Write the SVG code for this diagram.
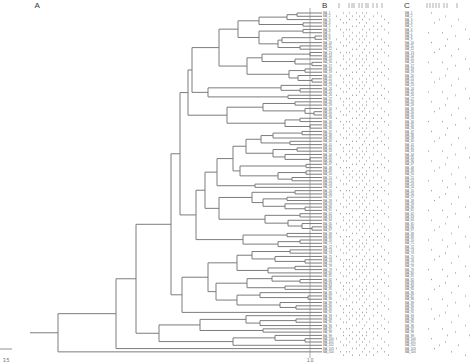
<svg xmlns="http://www.w3.org/2000/svg" width="474" height="364" viewBox="0 0 474 364">
<style>
.br{fill:none;stroke:#7c7c7c;stroke-width:1;vector-effect:non-scaling-stroke}
.hd{font-family:"Liberation Sans",Arial,sans-serif;font-size:8px;fill:#333}
.lb{font-family:"Liberation Sans",Arial,sans-serif;font-size:3px;fill:#666}
.ax{font-family:"Liberation Sans",Arial,sans-serif;font-size:4.5px;fill:#666}
.tk{stroke:#999;stroke-width:0.8}
</style>
<defs>
<pattern id="pb" patternUnits="userSpaceOnUse" x="335" y="11.5" width="57" height="23.03">
<g fill="#9a9a9a">
<rect x="8" y="0.9" width="1" height="1.2"/><rect x="14" y="0.9" width="1" height="1.2"/><rect x="21" y="0.9" width="1" height="1.2"/><rect x="27" y="0.9" width="1" height="1.2"/><rect x="31" y="0.9" width="1" height="1.2"/><rect x="42" y="0.9" width="1" height="1.2"/>
<rect x="1" y="4.19" width="1" height="1.2"/><rect x="11" y="4.19" width="1" height="1.2"/><rect x="17" y="4.19" width="1" height="1.2"/><rect x="24" y="4.19" width="1" height="1.2"/><rect x="29" y="4.19" width="1" height="1.2"/><rect x="38" y="4.19" width="1" height="1.2"/><rect x="46" y="4.19" width="1" height="1.2"/>
<rect x="5" y="7.48" width="1" height="1.2"/><rect x="14" y="7.48" width="1" height="1.2"/><rect x="21" y="7.48" width="1" height="1.2"/><rect x="27" y="7.48" width="1" height="1.2"/><rect x="34" y="7.48" width="1" height="1.2"/><rect x="49" y="7.48" width="1" height="1.2"/>
<rect x="8" y="10.77" width="1" height="1.2"/><rect x="11" y="10.77" width="1" height="1.2"/><rect x="24" y="10.77" width="1" height="1.2"/><rect x="31" y="10.77" width="1" height="1.2"/><rect x="42" y="10.77" width="1" height="1.2"/><rect x="53" y="10.77" width="1" height="1.2"/>
<rect x="1" y="14.06" width="1" height="1.2"/><rect x="17" y="14.06" width="1" height="1.2"/><rect x="21" y="14.06" width="1" height="1.2"/><rect x="29" y="14.06" width="1" height="1.2"/><rect x="38" y="14.06" width="1" height="1.2"/><rect x="46" y="14.06" width="1" height="1.2"/>
<rect x="5" y="17.35" width="1" height="1.2"/><rect x="11" y="17.35" width="1" height="1.2"/><rect x="14" y="17.35" width="1" height="1.2"/><rect x="27" y="17.35" width="1" height="1.2"/><rect x="34" y="17.35" width="1" height="1.2"/><rect x="42" y="17.35" width="1" height="1.2"/><rect x="49" y="17.35" width="1" height="1.2"/>
<rect x="8" y="20.64" width="1" height="1.2"/><rect x="17" y="20.64" width="1" height="1.2"/><rect x="24" y="20.64" width="1" height="1.2"/><rect x="31" y="20.64" width="1" height="1.2"/><rect x="38" y="20.64" width="1" height="1.2"/><rect x="53" y="20.64" width="1" height="1.2"/>
</g>
</pattern>
<pattern id="pc" patternUnits="userSpaceOnUse" x="425" y="11.5" width="49" height="29.61">
<g fill="#9a9a9a">
<rect x="6" y="0.9" width="1" height="1.2"/><rect x="20" y="4.19" width="1" height="1.2"/><rect x="14" y="7.48" width="1" height="1.2"/><rect x="33" y="7.48" width="1" height="1.2"/><rect x="9" y="10.77" width="1" height="1.2"/><rect x="26" y="14.06" width="1" height="1.2"/><rect x="40" y="17.35" width="1" height="1.2"/><rect x="3" y="20.64" width="1" height="1.2"/><rect x="17" y="20.64" width="1" height="1.2"/><rect x="30" y="23.93" width="1" height="1.2"/><rect x="22" y="27.22" width="1" height="1.2"/><rect x="44" y="27.22" width="1" height="1.2"/>
</g>
</pattern>
</defs>
<rect width="474" height="364" fill="#fff"/>

<g id="panel-letters">
<text class="hd" x="34.5" y="7.5">A</text>
<text class="hd" x="322" y="7.5">B</text>
<text class="hd" x="404" y="7.5">C</text>
</g>

<g id="column-headers">
<path class="tk" d="M339 3V8M349 3V8M352 3V8M354 3V8M359 3V8M362 3V8M366 3V8M368 3V8M373 3V8M377 3V8M382 3V8"/>
<path class="tk" d="M427 3V8M430 3V8M433 3V8M436 3V8M439 3V8M444 3V8M447 3V8M457 3V8"/>
</g>

<g id="cut-line"><path d="M310 8V358" stroke="#9a9a9a" stroke-width="0.8"/></g>

<g id="connectors" transform="translate(0,13) scale(1,3.29)">
<path class="br" d="M322 0H297V1H322"/>
<path class="br" d="M297 0.5H287V2H322"/>
<path class="br" d="M322 3H303V4H322"/>
<path class="br" d="M287 1.25H259V3.5H303"/>
<path class="br" d="M322 5H303V6H322"/>
<path class="br" d="M322 7H315V8H322"/>
<path class="br" d="M315 7.5H282V9H322"/>
<path class="br" d="M322 10H300V11H322"/>
<path class="br" d="M282 8.25H278V10.5H300"/>
<path class="br" d="M303 5.5H259V9.375H278"/>
<path class="br" d="M259 2.375H238V7.4375H259"/>
<path class="br" d="M322 12H310V13H322"/>
<path class="br" d="M322 15H312V16H322"/>
<path class="br" d="M322 14H295V15.5H312"/>
<path class="br" d="M310 12.5H262V14.75H295"/>
<path class="br" d="M322 17H305V18H322"/>
<path class="br" d="M322 20H312V21H322"/>
<path class="br" d="M322 19H298V20.5H312"/>
<path class="br" d="M305 17.5H289V19.75H298"/>
<path class="br" d="M262 13.625H247V18.625H289"/>
<path class="br" d="M238 4.906H219V16.125H247"/>
<path class="br" d="M322 23H300V24H322"/>
<path class="br" d="M322 22H281V23.5H300"/>
<path class="br" d="M322 25H288V26H322"/>
<path class="br" d="M281 22.75H208V25.5H288"/>
<path class="br" d="M219 10.516H192V24.125H208"/>
<path class="br" d="M322 27H295V28H322"/>
<path class="br" d="M322 30H314V31H322"/>
<path class="br" d="M322 29H305V30.5H314"/>
<path class="br" d="M295 27.5H263V29.75H305"/>
<path class="br" d="M322 32H300V33H322"/>
<path class="br" d="M322 34H310V35H322"/>
<path class="br" d="M300 32.5H285V34.5H310"/>
<path class="br" d="M263 28.625H227V33.5H285"/>
<path class="br" d="M192 17.32H188V31.0625H227"/>
<path class="br" d="M322 36H302V37H322"/>
<path class="br" d="M302 36.5H273V38H322"/>
<path class="br" d="M322 39H290V40H322"/>
<path class="br" d="M273 37.25H261V39.5H290"/>
<path class="br" d="M322 41H297V42H322"/>
<path class="br" d="M322 44H310V45H322"/>
<path class="br" d="M322 43H285V44.5H310"/>
<path class="br" d="M297 41.5H273V43.75H285"/>
<path class="br" d="M261 38.375H246V42.625H273"/>
<path class="br" d="M322 46H306V47H322"/>
<path class="br" d="M322 48H306V49H322"/>
<path class="br" d="M322 50H292V51H322"/>
<path class="br" d="M306 48.5H278V50.5H292"/>
<path class="br" d="M306 46.5H240V49.5H278"/>
<path class="br" d="M246 40.5H233V48H240"/>
<path class="br" d="M322 52H255V53H322"/>
<path class="br" d="M233 44.25H217V52.5H255"/>
<path class="br" d="M322 54H295V55H322"/>
<path class="br" d="M322 56H287V57H322"/>
<path class="br" d="M322 59H305V60H322"/>
<path class="br" d="M322 58H285V59.5H305"/>
<path class="br" d="M287 56.5H263V58.75H285"/>
<path class="br" d="M295 54.5H252V57.625H263"/>
<path class="br" d="M322 61H300V62H322"/>
<path class="br" d="M322 65H312V66H322"/>
<path class="br" d="M322 64H302V65.5H312"/>
<path class="br" d="M322 63H288V64.75H302"/>
<path class="br" d="M300 61.5H265V63.875H288"/>
<path class="br" d="M252 56.0625H219V62.6875H265"/>
<path class="br" d="M217 48.375H205V59.375H219"/>
<path class="br" d="M322 67H287V68H322"/>
<path class="br" d="M322 69H300V70H322"/>
<path class="br" d="M300 69.5H278V71H322"/>
<path class="br" d="M287 67.5H243V70.25H278"/>
<path class="br" d="M205 53.875H196V68.875H243"/>
<path class="br" d="M188 24.191H180V61.375H196"/>
<path class="br" d="M322 72H290V73H322"/>
<path class="br" d="M322 75H305V76H322"/>
<path class="br" d="M322 74H275V75.5H305"/>
<path class="br" d="M290 72.5H252V74.75H275"/>
<path class="br" d="M322 77H295V78H322"/>
<path class="br" d="M295 77.5H268V79H322"/>
<path class="br" d="M252 73.625H237V78.25H268"/>
<path class="br" d="M322 81H300V82H322"/>
<path class="br" d="M322 80H272V81.5H300"/>
<path class="br" d="M322 83H285V84H322"/>
<path class="br" d="M272 80.75H247V83.5H285"/>
<path class="br" d="M322 86H308V87H322"/>
<path class="br" d="M322 85H260V86.5H308"/>
<path class="br" d="M322 89H296V90H322"/>
<path class="br" d="M322 88H280V89.5H296"/>
<path class="br" d="M260 85.75H237V88.75H280"/>
<path class="br" d="M247 82.125H216V87.25H237"/>
<path class="br" d="M237 75.9375H208V84.6875H216"/>
<path class="br" d="M208 80.3125H182V91H322"/>
<path class="br" d="M180 42.783H171V85.656H182"/>
<path class="br" d="M322 93H296V94H322"/>
<path class="br" d="M296 93.5H260V95H322"/>
<path class="br" d="M322 92H246V94.25H260"/>
<path class="br" d="M322 96H263V97H322"/>
<path class="br" d="M246 93.125H200V96.5H263"/>
<path class="br" d="M322 99H305V100H322"/>
<path class="br" d="M322 98H275V99.5H305"/>
<path class="br" d="M275 98.75H233V101H322"/>
<path class="br" d="M200 94.8125H159V99.875H233"/>
<path class="br" d="M171 64.22H136V97.344H159"/>
<path class="br" d="M136 80.782H116V102H322"/>
<path class="br" d="M116 91.391H58V103H322"/>
<path class="br" d="M30 97.195H58"/>
</g>

<g id="col-b-marks"><rect x="335" y="11" width="57" height="345" fill="url(#pb)"/></g>
<g id="col-c-marks"><rect x="425" y="11" width="49" height="345" fill="url(#pc)"/></g>

<g id="col-b-labels">
<text class="lb" x="323" y="10.81"><tspan x="323" dy="3.29">BA_1</tspan><tspan x="323" dy="3.29">BA_2</tspan><tspan x="323" dy="3.29">BA_3</tspan><tspan x="323" dy="3.29">BA_4</tspan><tspan x="323" dy="3.29">BA_5</tspan><tspan x="323" dy="3.29">BA_6</tspan><tspan x="323" dy="3.29">BA_7</tspan><tspan x="323" dy="3.29">BA_8</tspan><tspan x="323" dy="3.29">BA_9</tspan><tspan x="323" dy="3.29">BA_10</tspan><tspan x="323" dy="3.29">BA_11</tspan><tspan x="323" dy="3.29">BA_12</tspan><tspan x="323" dy="3.29">BA_13</tspan><tspan x="323" dy="3.29">BA_14</tspan><tspan x="323" dy="3.29">BA_15</tspan><tspan x="323" dy="3.29">BA_16</tspan><tspan x="323" dy="3.29">BA_17</tspan><tspan x="323" dy="3.29">BA_18</tspan><tspan x="323" dy="3.29">BA_19</tspan><tspan x="323" dy="3.29">BA_20</tspan><tspan x="323" dy="3.29">BA_21</tspan><tspan x="323" dy="3.29">BA_22</tspan><tspan x="323" dy="3.29">BA_23</tspan><tspan x="323" dy="3.29">BA_24</tspan><tspan x="323" dy="3.29">BA_25</tspan><tspan x="323" dy="3.29">BA_26</tspan><tspan x="323" dy="3.29">BA_27</tspan><tspan x="323" dy="3.29">BA_28</tspan><tspan x="323" dy="3.29">BA_29</tspan><tspan x="323" dy="3.29">BA_30</tspan><tspan x="323" dy="3.29">BA_31</tspan><tspan x="323" dy="3.29">BA_32</tspan><tspan x="323" dy="3.29">BA_33</tspan><tspan x="323" dy="3.29">BA_34</tspan><tspan x="323" dy="3.29">BA_35</tspan><tspan x="323" dy="3.29">BA_36</tspan><tspan x="323" dy="3.29">BA_37</tspan><tspan x="323" dy="3.29">BA_38</tspan><tspan x="323" dy="3.29">BA_39</tspan><tspan x="323" dy="3.29">BA_40</tspan><tspan x="323" dy="3.29">BA_41</tspan><tspan x="323" dy="3.29">BA_42</tspan><tspan x="323" dy="3.29">BA_43</tspan><tspan x="323" dy="3.29">BA_44</tspan><tspan x="323" dy="3.29">BA_45</tspan><tspan x="323" dy="3.29">BA_46</tspan><tspan x="323" dy="3.29">BA_47</tspan><tspan x="323" dy="3.29">BA_48</tspan><tspan x="323" dy="3.29">BA_49</tspan><tspan x="323" dy="3.29">BA_50</tspan><tspan x="323" dy="3.29">BA_51</tspan><tspan x="323" dy="3.29">BA_52</tspan><tspan x="323" dy="3.29">BA_53</tspan><tspan x="323" dy="3.29">BA_54</tspan><tspan x="323" dy="3.29">BA_55</tspan><tspan x="323" dy="3.29">BA_56</tspan><tspan x="323" dy="3.29">BA_57</tspan><tspan x="323" dy="3.29">BA_58</tspan><tspan x="323" dy="3.29">BA_59</tspan><tspan x="323" dy="3.29">BA_60</tspan><tspan x="323" dy="3.29">BA_61</tspan><tspan x="323" dy="3.29">BA_62</tspan><tspan x="323" dy="3.29">BA_63</tspan><tspan x="323" dy="3.29">BA_64</tspan><tspan x="323" dy="3.29">BA_65</tspan><tspan x="323" dy="3.29">BA_66</tspan><tspan x="323" dy="3.29">BA_67</tspan><tspan x="323" dy="3.29">BA_68</tspan><tspan x="323" dy="3.29">BA_69</tspan><tspan x="323" dy="3.29">BA_70</tspan><tspan x="323" dy="3.29">BA_71</tspan><tspan x="323" dy="3.29">BA_72</tspan><tspan x="323" dy="3.29">BA_73</tspan><tspan x="323" dy="3.29">BA_74</tspan><tspan x="323" dy="3.29">BA_75</tspan><tspan x="323" dy="3.29">BA_76</tspan><tspan x="323" dy="3.29">BA_77</tspan><tspan x="323" dy="3.29">BA_78</tspan><tspan x="323" dy="3.29">BA_79</tspan><tspan x="323" dy="3.29">BA_80</tspan><tspan x="323" dy="3.29">BA_81</tspan><tspan x="323" dy="3.29">BA_82</tspan><tspan x="323" dy="3.29">BA_83</tspan><tspan x="323" dy="3.29">BA_84</tspan><tspan x="323" dy="3.29">BA_85</tspan><tspan x="323" dy="3.29">BA_86</tspan><tspan x="323" dy="3.29">BA_87</tspan><tspan x="323" dy="3.29">BA_88</tspan><tspan x="323" dy="3.29">BA_89</tspan><tspan x="323" dy="3.29">BA_90</tspan><tspan x="323" dy="3.29">BA_91</tspan><tspan x="323" dy="3.29">BA_92</tspan><tspan x="323" dy="3.29">BA_93</tspan><tspan x="323" dy="3.29">BA_94</tspan><tspan x="323" dy="3.29">BA_95</tspan><tspan x="323" dy="3.29">BA_96</tspan><tspan x="323" dy="3.29">BA_97</tspan><tspan x="323" dy="3.29">BA_98</tspan><tspan x="323" dy="3.29">BA_99</tspan><tspan x="323" dy="3.29">BA_100</tspan><tspan x="323" dy="3.29">BA_101</tspan><tspan x="323" dy="3.29">BA_102</tspan><tspan x="323" dy="3.29">BA_103</tspan><tspan x="323" dy="3.29">BA_104</tspan></text>
</g>

<g id="col-c-labels">
<text class="lb" x="405" y="10.81"><tspan x="405" dy="3.29">BA_1</tspan><tspan x="405" dy="3.29">BA_2</tspan><tspan x="405" dy="3.29">BA_3</tspan><tspan x="405" dy="3.29">BA_4</tspan><tspan x="405" dy="3.29">BA_5</tspan><tspan x="405" dy="3.29">BA_6</tspan><tspan x="405" dy="3.29">BA_7</tspan><tspan x="405" dy="3.29">BA_8</tspan><tspan x="405" dy="3.29">BA_9</tspan><tspan x="405" dy="3.29">BA_10</tspan><tspan x="405" dy="3.29">BA_11</tspan><tspan x="405" dy="3.29">BA_12</tspan><tspan x="405" dy="3.29">BA_13</tspan><tspan x="405" dy="3.29">BA_14</tspan><tspan x="405" dy="3.29">BA_15</tspan><tspan x="405" dy="3.29">BA_16</tspan><tspan x="405" dy="3.29">BA_17</tspan><tspan x="405" dy="3.29">BA_18</tspan><tspan x="405" dy="3.29">BA_19</tspan><tspan x="405" dy="3.29">BA_20</tspan><tspan x="405" dy="3.29">BA_21</tspan><tspan x="405" dy="3.29">BA_22</tspan><tspan x="405" dy="3.29">BA_23</tspan><tspan x="405" dy="3.29">BA_24</tspan><tspan x="405" dy="3.29">BA_25</tspan><tspan x="405" dy="3.29">BA_26</tspan><tspan x="405" dy="3.29">BA_27</tspan><tspan x="405" dy="3.29">BA_28</tspan><tspan x="405" dy="3.29">BA_29</tspan><tspan x="405" dy="3.29">BA_30</tspan><tspan x="405" dy="3.29">BA_31</tspan><tspan x="405" dy="3.29">BA_32</tspan><tspan x="405" dy="3.29">BA_33</tspan><tspan x="405" dy="3.29">BA_34</tspan><tspan x="405" dy="3.29">BA_35</tspan><tspan x="405" dy="3.29">BA_36</tspan><tspan x="405" dy="3.29">BA_37</tspan><tspan x="405" dy="3.29">BA_38</tspan><tspan x="405" dy="3.29">BA_39</tspan><tspan x="405" dy="3.29">BA_40</tspan><tspan x="405" dy="3.29">BA_41</tspan><tspan x="405" dy="3.29">BA_42</tspan><tspan x="405" dy="3.29">BA_43</tspan><tspan x="405" dy="3.29">BA_44</tspan><tspan x="405" dy="3.29">BA_45</tspan><tspan x="405" dy="3.29">BA_46</tspan><tspan x="405" dy="3.29">BA_47</tspan><tspan x="405" dy="3.29">BA_48</tspan><tspan x="405" dy="3.29">BA_49</tspan><tspan x="405" dy="3.29">BA_50</tspan><tspan x="405" dy="3.29">BA_51</tspan><tspan x="405" dy="3.29">BA_52</tspan><tspan x="405" dy="3.29">BA_53</tspan><tspan x="405" dy="3.29">BA_54</tspan><tspan x="405" dy="3.29">BA_55</tspan><tspan x="405" dy="3.29">BA_56</tspan><tspan x="405" dy="3.29">BA_57</tspan><tspan x="405" dy="3.29">BA_58</tspan><tspan x="405" dy="3.29">BA_59</tspan><tspan x="405" dy="3.29">BA_60</tspan><tspan x="405" dy="3.29">BA_61</tspan><tspan x="405" dy="3.29">BA_62</tspan><tspan x="405" dy="3.29">BA_63</tspan><tspan x="405" dy="3.29">BA_64</tspan><tspan x="405" dy="3.29">BA_65</tspan><tspan x="405" dy="3.29">BA_66</tspan><tspan x="405" dy="3.29">BA_67</tspan><tspan x="405" dy="3.29">BA_68</tspan><tspan x="405" dy="3.29">BA_69</tspan><tspan x="405" dy="3.29">BA_70</tspan><tspan x="405" dy="3.29">BA_71</tspan><tspan x="405" dy="3.29">BA_72</tspan><tspan x="405" dy="3.29">BA_73</tspan><tspan x="405" dy="3.29">BA_74</tspan><tspan x="405" dy="3.29">BA_75</tspan><tspan x="405" dy="3.29">BA_76</tspan><tspan x="405" dy="3.29">BA_77</tspan><tspan x="405" dy="3.29">BA_78</tspan><tspan x="405" dy="3.29">BA_79</tspan><tspan x="405" dy="3.29">BA_80</tspan><tspan x="405" dy="3.29">BA_81</tspan><tspan x="405" dy="3.29">BA_82</tspan><tspan x="405" dy="3.29">BA_83</tspan><tspan x="405" dy="3.29">BA_84</tspan><tspan x="405" dy="3.29">BA_85</tspan><tspan x="405" dy="3.29">BA_86</tspan><tspan x="405" dy="3.29">BA_87</tspan><tspan x="405" dy="3.29">BA_88</tspan><tspan x="405" dy="3.29">BA_89</tspan><tspan x="405" dy="3.29">BA_90</tspan><tspan x="405" dy="3.29">BA_91</tspan><tspan x="405" dy="3.29">BA_92</tspan><tspan x="405" dy="3.29">BA_93</tspan><tspan x="405" dy="3.29">BA_94</tspan><tspan x="405" dy="3.29">BA_95</tspan><tspan x="405" dy="3.29">BA_96</tspan><tspan x="405" dy="3.29">BA_97</tspan><tspan x="405" dy="3.29">BA_98</tspan><tspan x="405" dy="3.29">BA_99</tspan><tspan x="405" dy="3.29">BA_100</tspan><tspan x="405" dy="3.29">BA_101</tspan><tspan x="405" dy="3.29">BA_102</tspan><tspan x="405" dy="3.29">BA_103</tspan><tspan x="405" dy="3.29">BA_104</tspan></text>
</g>

<g id="scale">
<path d="M0 349H12" stroke="#777" stroke-width="0.8"/>
<text class="ax" x="3" y="362">3.5</text>
<text class="ax" x="307" y="362">1.0</text>
</g>
</svg>
